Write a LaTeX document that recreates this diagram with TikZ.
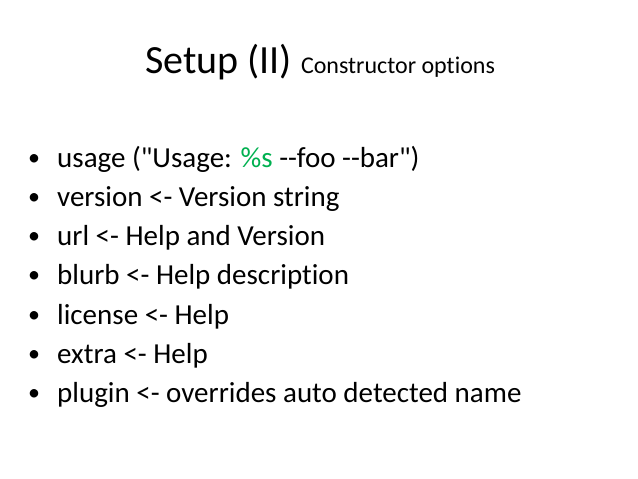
\documentclass[tikz,border=0pt]{standalone}
\usepackage{fontspec}
\setmainfont{Carlito}[Ligatures={NoCommon}]
\definecolor{grn}{HTML}{00B050}
\begin{document}
\begin{tikzpicture}[x=1pt,y=-1pt,
  item/.style={anchor=base west,inner sep=0pt,font=\fontsize{29}{34}\selectfont},
  dot/.style={anchor=base west,inner sep=0pt,font=\fontsize{24}{28}\selectfont}]
\useasboundingbox (0,0) rectangle (638,479);
\node[anchor=base,inner sep=0pt] (title) at (320,73) {\fontsize{40}{46}\selectfont Setup (II) \fontsize{24}{28}\selectfont Constructor options};
\foreach \t [count=\i] in {{usage (\textquotedbl Usage: \textcolor{grn}{\%s} -{}-foo -{}-bar\textquotedbl)},{version <- Version string},{url <- Help and Version},{blurb <- Help description},{license <- Help},{extra <- Help},{plugin <- overrides auto detected name}}{
  \node[dot] (b\i) at (28,{165+39.3*(\i-1)}) {•};
  \node[item] (t\i) at (57,{167+39.3*(\i-1)}) {\t};
}
\end{tikzpicture}
\end{document}
